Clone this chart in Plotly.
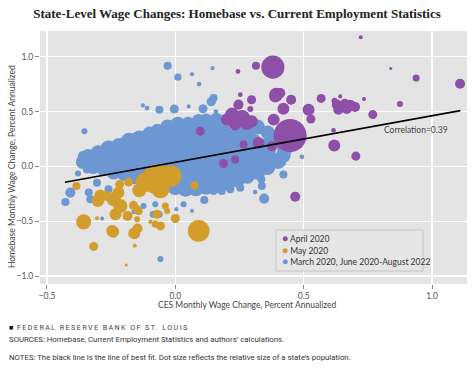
import numpy as np
import plotly.graph_objects as go

# ---- Data ----
# April 2020 (x = CES change, y = Homebase change, pop = relative state population, millions)
apr_x = [0.722, 0.314, 0.380, 0.839, 0.938, 1.109, 0.393, 0.451, 0.297, 0.568, 0.421, 0.519,
         0.528, 0.642, 0.629, 0.655, 0.681, 0.700, 0.635, 0.668, 0.620, 0.660, 0.735, 0.769,
         0.875, 0.447, 0.619, 0.703, 0.616, 0.467, 0.324, 0.376, 0.266, 0.383, 0.244, 0.253,
         0.246, 0.292, 0.221, 0.260, 0.279, 0.233, 0.298, 0.201, 0.389, 0.409, 0.097, 0.188,
         0.233]
apr_y = [1.179, 0.918, 0.906, 0.894, 0.806, 0.755, 0.655, 0.609, 0.609, 0.621, 0.527, 0.518,
         0.433, 0.639, 0.564, 0.548, 0.555, 0.543, 0.518, 0.525, 0.600, 0.580, 0.615, 0.473,
         0.570, 0.282, 0.191, 0.094, 0.330, -0.276, 0.215, 0.185, 0.200, 0.427, 0.867, 0.655,
         0.564, 0.524, 0.473, 0.443, 0.397, 0.382, 0.412, 0.427, 0.639, 0.670, 0.321, 0.027,
         0.064]
apr_pop = [0.6, 2.3, 19, 0.35, 1.8, 3.6, 7, 3.6, 2.9, 2.9, 5.1, 5.1,
           2.9, 0.6, 3.6, 5.1, 5.1, 3.6, 3.6, 3.6, 1.3, 2.3, 0.6, 2.9,
           1.3, 39, 5.1, 2.9, 0.8, 3.6, 5.1, 3.6, 2.3, 5.1, 0.8, 0.8,
           3.6, 1.3, 7, 9, 7, 5.1, 5.1, 5.1, 5.1, 3.6, 2.9, 2.9,
           2.3]

# May 2020
may_x = [-0.385, -0.071, -0.019, -0.117, -0.058, -0.140, 0.075, 0.091, -0.357, -0.318, -0.191,
         -0.242, -0.160, -0.147, -0.158, -0.298, -0.240, -0.221, -0.214, -0.233, -0.182, -0.217,
         -0.143, -0.186, 0.000, -0.032, -0.071, -0.058, -0.078, -0.097, -0.305, -0.149, -0.039,
         -0.292, -0.302, -0.246, -0.266, -0.149, -0.163]
may_y = [-0.179, -0.118, -0.088, -0.145, -0.209, -0.218, -0.173, -0.588, -0.506, -0.730, -0.900,
         -0.597, -0.609, -0.567, -0.724, -0.300, -0.300, -0.239, -0.361, -0.436, -0.143, -0.164,
         -0.406, -0.452, -0.475, -0.406, -0.436, -0.543, -0.527, -0.506, -0.473, -0.482, -0.361,
         -0.264, -0.315, -0.588, -0.270, -0.390, -0.355]
may_pop = [2.3, 32, 17, 14, 11.5, 7, 2.3, 17, 8, 2.9, 0.35,
           5.1, 5.1, 3.6, 0.6, 5.1, 7, 5.1, 7, 5.1, 2.9, 2.9,
           2.3, 3.6, 2.9, 1.3, 2.9, 2.9, 1.8, 0.6, 0.6, 1.3, 1.8,
           5.1, 5.1, 5.1, 3.6, 2.3, 2.9]

# March 2020, June 2020 - August 2022
oth_x = [-0.24, -0.16, -0.08, 0.00, 0.08, 0.16, 0.24, 0.32,
         -0.14, -0.06, 0.02, 0.10, 0.18, 0.26,
         -0.12, -0.04, 0.04, 0.12, 0.20, 0.28,
         -0.34, -0.30, -0.26, -0.22, -0.18, -0.14, -0.10, -0.07, -0.03, 0.01, 0.05, 0.09,
         0.12, 0.16, 0.20, 0.24, 0.28, 0.32, 0.36, 0.40, 0.42,
         -0.36, -0.32, -0.28, -0.24, -0.20, -0.16, -0.12, -0.08, -0.04, 0.00, 0.04, 0.08,
         0.12, 0.16, 0.20, 0.24, 0.28, 0.32, 0.36, 0.40, 0.42, 0.43,
         -0.34, -0.28, -0.28, -0.20, -0.20, -0.10, -0.02, 0.06, 0.14, 0.22, 0.30, 0.36,
         0.36, 0.30, 0.22, 0.14, 0.06, -0.02, -0.10, 0.00, 0.08, 0.16, 0.24, 0.32, -0.08,
         -0.030, 0.010, 0.065, 0.145, 0.093, 0.149, 0.140, -0.126, -0.110, -0.062, -0.004,
         0.052, 0.108, 0.158, -0.354, -0.360, -0.379, -0.409, -0.428, -0.337, -0.331,
         -0.260, -0.305, -0.344, -0.058, -0.285, 0.065, 0.113, 0.032, 0.004, -0.063,
         -0.086, -0.124, -0.078, -0.162, 0.346, 0.421, 0.337, 0.311, 0.253, 0.214, 0.181,
         0.149, 0.335, 0.415, 0.376, 0.493]
oth_y = [0.07, 0.08, 0.09, 0.08, 0.10, 0.11, 0.13, 0.14,
         0.21, 0.24, 0.26, 0.28, 0.27, 0.28,
         -0.04, -0.06, -0.07, -0.06, -0.03, -0.01,
         0.09, 0.12, 0.16, 0.19, 0.23, 0.26, 0.30, 0.33, 0.36, 0.38, 0.39, 0.42,
         0.43, 0.42, 0.42, 0.43, 0.40, 0.36, 0.31, 0.25, 0.18,
         0.04, 0.00, -0.03, -0.05, -0.07, -0.09, -0.11, -0.13, -0.16, -0.19, -0.20, -0.20,
         -0.19, -0.17, -0.15, -0.12, -0.09, -0.05, -0.01, 0.04, 0.10, 0.15,
         0.05, 0.04, 0.10, 0.02, 0.13, 0.18, 0.19, 0.19, 0.20, 0.21, 0.22, 0.18,
         0.08, 0.05, 0.03, 0.01, 0.00, 0.00, 0.02, -0.12, -0.13, -0.11, -0.07, -0.02, -0.10,
         0.918, 0.815, 0.842, 0.897, 0.752, 0.624, 0.590, 0.557, 0.533, 0.518, 0.524,
         0.548, 0.527, 0.500, 0.321, 0.094, -0.064, -0.239, -0.324, -0.239, -0.300,
         -0.209, -0.148, -0.027, -0.845, -0.476, -0.406, -0.306, -0.345, -0.390, -0.436,
         -0.436, -0.361, -0.345, -0.415, -0.294, -0.073, -0.179, -0.234, -0.194, -0.209, -0.224,
         -0.224, -0.118, 0.034, 0.094, 0.088]
oth_pop = [20, 30, 39, 39, 30, 39, 28, 20,
           20, 30, 28, 39, 22, 20,
           20, 28, 30, 39, 22, 18,
           8, 9, 10, 8, 10, 8, 7, 6, 8, 9, 7, 6,
           5, 8, 7, 8, 9, 8, 7, 8, 6,
           7, 8, 6, 8, 7, 9, 8, 9, 8, 9, 10, 9,
           8, 9, 8, 9, 8, 9, 8, 7, 8, 6,
           10, 14, 10, 14, 14, 12, 12, 12, 12, 12, 12, 12,
           12, 12, 12, 12, 12, 12, 12, 12, 12, 12, 12, 10, 10,
           2.3, 1.8, 0.6, 0.6, 0.8, 2.3, 3.0, 0.6, 0.8, 2.3, 2.9,
           0.6, 2.9, 0.8, 1.3, 3.6, 1.3, 3.6, 2.3, 2.3, 2.3,
           2.3, 2.3, 2.3, 1.3, 0.6, 0.6, 2.3, 1.3, 0.6, 1.8,
           1.8, 1.3, 1.3, 0.8, 3.6, 2.3, 2.3, 0.8, 2.3, 2.3, 2.3,
           2.3, 2.3, 2.3, 2.3, 0.8]

# Line of best fit
fit_x = [-0.43, 1.11]
fit_y = [-0.144, 0.509]
correlation = 0.39

series_names = ["April 2020", "May 2020", "March 2020, June 2020-August 2022"]
x_ticks = [-0.5, 0.0, 0.5, 1.0]
y_ticks = [-1.0, -0.5, 0.0, 0.5, 1.0]

# ---- Styling ----
C_APR = "#8d4fa7"
C_MAY = "#d29d2b"
C_OTH = "#6d97d3"
series_colors = [C_APR, C_MAY, C_OTH]
TICK_FONT = dict(family="Lato, Open Sans, sans-serif", size=8.5, color="#555555")


def diam(pop):
    return 5.3 * np.sqrt(np.asarray(pop, dtype=float))


fig = go.Figure()
for xs, ys, ps, col, nm in [(oth_x, oth_y, oth_pop, C_OTH, series_names[2]),
                            (may_x, may_y, may_pop, C_MAY, series_names[1]),
                            (apr_x, apr_y, apr_pop, C_APR, series_names[0])]:
    fig.add_trace(go.Scatter(x=xs, y=ys, mode="markers", name=nm, showlegend=False,
                             hoverinfo="skip",
                             marker=dict(size=diam(ps), sizemode="diameter", color=col,
                                         line=dict(width=0), opacity=1)))

fig.add_trace(go.Scatter(x=fit_x, y=fit_y, mode="lines", showlegend=False, hoverinfo="skip",
                         line=dict(color="black", width=1.6)))

fig.add_annotation(x=0.938, y=0.336, xref="x", yref="y", text=f"Correlation={correlation}",
                   showarrow=False, font=dict(family="Lato, sans-serif", size=8.5, color="#444444"))

fig.update_layout(
    width=474, height=370,
    margin=dict(l=40, r=7, t=31, b=86, autoexpand=False),
    showlegend=False,
    paper_bgcolor="white", plot_bgcolor="#e4e4e4",
    title=dict(text="<b>State-Level Wage Changes: Homebase vs. Current Employment Statistics</b>",
               x=0.5, xanchor="center", y=1 - 13 / 370, yanchor="middle",
               font=dict(family="Liberation Serif, serif", size=13, color="#222222")),
    xaxis=dict(range=[-0.527, 1.136], tickvals=x_ticks, tickformat=".1f", showgrid=True,
               gridcolor="white", gridwidth=1.2, zeroline=False, ticks="outside", ticklen=4,
               tickcolor="#888888", tickfont=TICK_FONT, showline=False, automargin=False),
    yaxis=dict(range=[-1.073, 1.236], tickvals=y_ticks, tickformat=".1f", showgrid=True,
               gridcolor="white", gridwidth=1.2, zeroline=False, ticks="outside", ticklen=4,
               tickcolor="#888888", tickfont=TICK_FONT, showline=False, automargin=False),
    font=dict(family="Lato, sans-serif"),
)

# Legend box drawn inside the plot area
fig.add_shape(type="rect", xref="paper", yref="paper", x0=0.5527, x1=0.897, y0=0.0514, y1=0.2134,
              fillcolor="#e6e6e6", line=dict(color="#c6c6c6", width=1), layer="above")
leg_rows_y = [0.180, 0.136, 0.092]
for name, col, yy in zip(series_names, series_colors, leg_rows_y):
    fig.add_annotation(x=0.562, y=yy, xref="paper", yref="paper", showarrow=False,
                       xanchor="left", yanchor="middle",
                       text=f"<span style='color:{col};font-size:10px'>\u25cf</span> {name}",
                       font=dict(family="Lato, sans-serif", size=8.5, color="#333333"))

ann_font = dict(family="Lato, sans-serif", size=8.5, color="#444444")
fig.add_annotation(x=0.485, y=-0.083, xref="paper", yref="paper", showarrow=False,
                   text="CES Monthly Wage Change, Percent Annualized", font=ann_font,
                   xanchor="center", yanchor="middle")
fig.add_annotation(x=-0.0656, y=0.466, xref="paper", yref="paper", showarrow=False, textangle=-90,
                   text="Homebase Monthly Wage Change, Percent Annualized", font=ann_font,
                   xanchor="center", yanchor="middle")
fig.add_annotation(x=-0.0773, y=-0.170, xref="paper", yref="paper", showarrow=False,
                   text="<span style='color:#111'>\u25a0</span>  "
                        "<span style='letter-spacing:1.4px'>FEDERAL RESERVE BANK OF ST. LOUIS</span>",
                   font=dict(family="Roboto, sans-serif", size=7.2, color="#444444"),
                   xanchor="left", yanchor="middle")
fig.add_annotation(x=-0.0773, y=-0.221, xref="paper", yref="paper", showarrow=False,
                   text="SOURCES: Homebase, Current Employment Statistics and authors\u2019 calculations.",
                   font=dict(family="Roboto, sans-serif", size=7.8, color="#333333"),
                   xanchor="left", yanchor="middle")
fig.add_annotation(x=-0.0773, y=-0.289, xref="paper", yref="paper", showarrow=False,
                   text="NOTES: The black line is the line of best fit. Dot size reflects the relative size of a state\u2019s population.",
                   font=dict(family="Roboto, sans-serif", size=7.8, color="#333333"),
                   xanchor="left", yanchor="middle")

fig.write_html("out.html", config={"displayModeBar": False, "staticPlot": True},
               post_script="document.body.style.margin='0';")
